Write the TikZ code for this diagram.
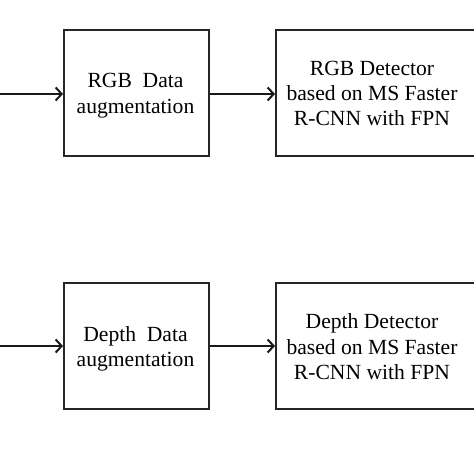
\documentclass[tikz,border=0pt]{standalone}
\usepackage{fontspec}
\setmainfont{Liberation Serif}
\usetikzlibrary{arrows.meta}
\begin{document}
\begin{tikzpicture}[x=1pt,y=-1pt,
  blk/.style={draw=black!85, line width=1.9pt, inner sep=0pt},
  lbl/.style={align=center, font=\fontsize{21.6}{25.4}\selectfont, inner sep=0pt},
  arr/.style={draw=black!90, line width=2pt, -{Straight Barb[length=6pt,width=13pt,line width=2pt]}}]
\path[use as bounding box] (0,0) rectangle (474,474);
\clip (0,0) rectangle (474,474);
\fill[white] (0,0) rectangle (474,474);
% top row
\node[blk, minimum width=145pt, minimum height=126pt] (aug1) at (136.5,93) {};
\node[blk, minimum width=212pt, minimum height=126pt, anchor=west] (det1) at (275,93) {};
\node[lbl] (t1) at (135.5,95.8) {RGB\ \ Data\\augmentation};
\node[lbl] (t2) at (372,93.5) {RGB Detector\\based on MS Faster\\R-CNN with FPN};
\coordinate (in1) at (0,94);
\draw[arr] (in1) -- (aug1.west |- in1);
\draw[arr] (aug1.east |- in1) -- (det1.west |- in1);
% bottom row
\node[blk, minimum width=145pt, minimum height=126pt] (aug2) at (136.5,346) {};
\node[blk, minimum width=212pt, minimum height=126pt, anchor=west] (det2) at (275,346) {};
\node[lbl] (t3) at (135.5,349) {Depth\ \ Data\\augmentation};
\node[lbl] (t4) at (372,346.7) {Depth Detector\\based on MS Faster\\R-CNN with FPN};
\coordinate (in2) at (0,346);
\draw[arr] (in2) -- (aug2.west |- in2);
\draw[arr] (aug2.east |- in2) -- (det2.west |- in2);
\end{tikzpicture}
\end{document}
